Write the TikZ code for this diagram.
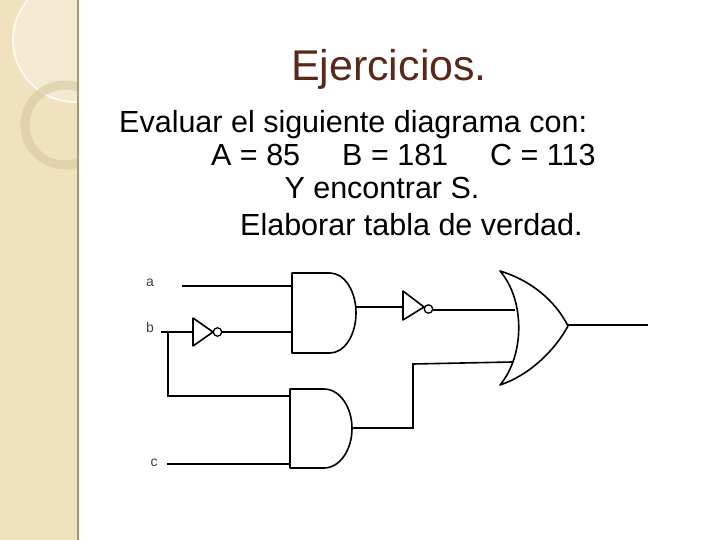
\documentclass[tikz,border=0pt]{standalone}
\usepackage{fontspec}
\setmainfont{Liberation Sans}
\definecolor{strip}{RGB}{240,226,190}
\definecolor{ringc}{RGB}{215,200,160}
\definecolor{edgec}{RGB}{170,150,110}
\definecolor{titlec}{RGB}{90,40,25}
\begin{document}
\begin{tikzpicture}[x=1pt,y=-1pt,
  wire/.style={line width=1.6pt,black},
  gate/.style={line width=1.6pt,black,line join=round},
  body/.style={font=\fontsize{30.5}{34}\selectfont,anchor=base west,inner sep=0pt},
  lbl/.style={font=\fontsize{14}{16}\selectfont,text=black!75,inner sep=0pt}]
\useasboundingbox (0,0) rectangle (720,540);
\fill[white] (0,0) rectangle (720,540);
% left decorative strip
\fill[strip] (0,0) rectangle (78,540);
\begin{scope}
\clip (0,0) rectangle (78,540);
\fill[white,opacity=0.3] (75,40) circle (62);
\draw[white,line width=1.8pt,opacity=0.8] (75,40) circle (62);
\draw[ringc,line width=9pt,opacity=0.6] (65,125) circle (40);
\end{scope}
\draw[edgec,line width=1.5pt] (78,0) -- (78,540);
% texts
\node[font=\fontsize{43}{48}\selectfont,text=titlec,anchor=base,inner sep=0pt] (title) at (389,81) {Ejercicios.};
\node[body] (l1) at (119,133) {Evaluar el siguiente diagrama con:};
\node[body] (l2) at (211,166) {A = 85\hspace{42pt}B = 181\hspace{42pt}C = 113};
\node[body,anchor=base] (l3) at (382,199) {Y encontrar S.};
\node[body] (l4) at (240,236) {Elaborar tabla de verdad.};
% labels
\node[lbl] (la) at (150,283) {a};
\node[lbl] (lb) at (150,327) {b};
\node[lbl] (lc) at (154,463) {c};
% coordinates
\coordinate (ain) at (182,286);
\coordinate (bin) at (161,332);
\coordinate (cin) at (167,464);
\coordinate (jb) at (168,332);
% AND1
\draw[gate] (292,273) -- (330,273) arc[start angle=-90,end angle=90,x radius=26,y radius=40] -- (292,353) -- cycle;
\coordinate (and1a) at (292,286);
\coordinate (and1b) at (292,332);
\coordinate (and1o) at (356,307);
% AND2
\draw[gate] (290,389) -- (324,389) arc[start angle=-90,end angle=90,x radius=28,y radius=39.5] -- (290,468) -- cycle;
\coordinate (and2a) at (290,396);
\coordinate (and2b) at (290,464);
\coordinate (and2o) at (352,428);
% NOT1
\draw[gate] (193,318) -- (213,332) -- (193,346) -- cycle;
\draw[gate,line width=1.3pt] (217.5,332) circle (4.2);
\coordinate (n1i) at (193,332);
\coordinate (n1o) at (222,332);
% NOT2
\draw[gate] (403,291) -- (424,307) -- (403,320) -- cycle;
\draw[gate,line width=1.3pt] (428.5,309) circle (4.2);
\coordinate (n2i) at (403,307);
\coordinate (n2o) at (433,310);
% OR
\draw[gate] (500,271) .. controls (525,300) and (525,355) .. (500,385)
  .. controls (530,375) and (555,350) .. (568,326)
  .. controls (555,300) and (530,280) .. (500,271) -- cycle;
\coordinate (ora) at (515,310);
\coordinate (orb) at (512,362);
\coordinate (oro) at (568,325);
\coordinate (sout) at (648,325);
% wires
\draw[wire] (ain) -- (and1a);
\draw[wire] (bin) -- (n1i);
\draw[wire] (n1o) -- (and1b);
\draw[wire] (jb) -- (168,396) -- (and2a);
\draw[wire] (cin) -- (and2b);
\draw[wire] (and1o) -- (n2i);
\draw[wire] (n2o) -- (ora);
\draw[wire] (and2o) -- (413,428) -- (413,364) -- (orb);
\draw[wire] (oro) -- (sout);
\end{tikzpicture}
\end{document}
